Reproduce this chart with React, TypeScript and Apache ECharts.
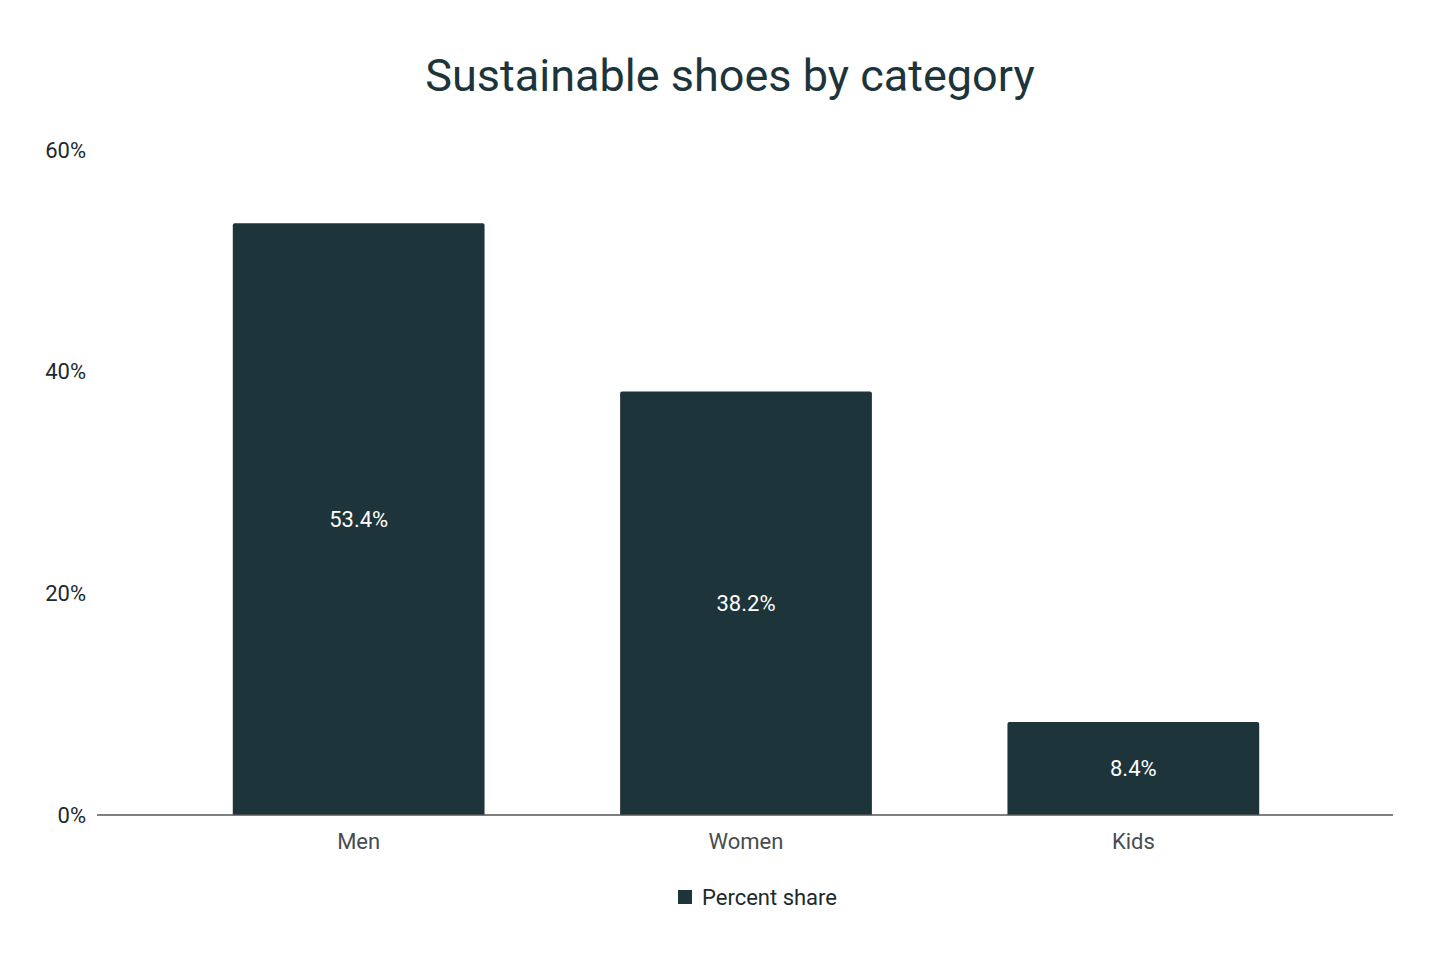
import React, { useEffect, useRef } from "react";
import * as echarts from "echarts";

const categories = ["Men", "Women", "Kids"];
const values = [53.4, 38.2, 8.4];
const yTicks = [0, 20, 40, 60];

export default function App() {
  const ref = useRef<HTMLDivElement>(null);
  useEffect(() => {
    const chart = echarts.init(ref.current!, null, { renderer: "svg" });
    chart.setOption({
      animation: false,
      backgroundColor: "#ffffff",
      textStyle: { fontFamily: "Roboto" },
      title: {
        text: "Sustainable shoes by category",
        left: 725,
        textAlign: "center",
        top: 48,
        textStyle: { fontFamily: "Roboto", fontSize: 45, fontWeight: "normal", color: "#1c343a" },
      },
      legend: {
        top: 881,
        left: 673,
        icon: "rect",
        itemWidth: 14,
        itemHeight: 14,
        itemGap: 10,
        textStyle: { fontFamily: "Roboto", fontSize: 22, color: "#1c2a2e", padding: [0, 0, 0, 5] },
        data: ["Percent share"],
      },
      grid: { left: 165, right: 113, top: 150, bottom: 145, containLabel: false },
      graphic: [
        {
          type: "line",
          shape: { x1: 97, y1: 815, x2: 1393, y2: 815 },
          style: { stroke: "#555555", lineWidth: 1.5 },
          z: 10,
        },
      ],
      xAxis: {
        type: "category",
        data: categories,
        axisLine: { show: false },
        axisTick: { show: false },
        axisLabel: { fontFamily: "Roboto", fontSize: 22, color: "#474d4f", margin: 15 },
      },
      yAxis: {
        type: "value",
        min: yTicks[0],
        max: yTicks[yTicks.length - 1],
        interval: 20,
        splitLine: { show: false },
        axisLine: { show: false },
        axisTick: { show: false },
        axisLabel: { fontFamily: "Roboto", fontSize: 22, color: "#1c2a2e", margin: 79, formatter: "{value}%" },
      },
      series: [
        {
          name: "Percent share",
          type: "bar",
          data: values,
          barWidth: "65%",
          itemStyle: { color: "#1c343a", borderRadius: [2, 2, 0, 0] },
          label: {
            show: true,
            position: "inside",
            formatter: (p: any) => p.value.toFixed(1) + "%",
            fontFamily: "Roboto",
            fontSize: 22,
            color: "#ffffff",
          },
        },
      ],
    });
    return () => chart.dispose();
  }, []);
  return <div ref={ref} style={{ position: "absolute", left: 0, top: 0, width: 1440, height: 960 }} />;
}
